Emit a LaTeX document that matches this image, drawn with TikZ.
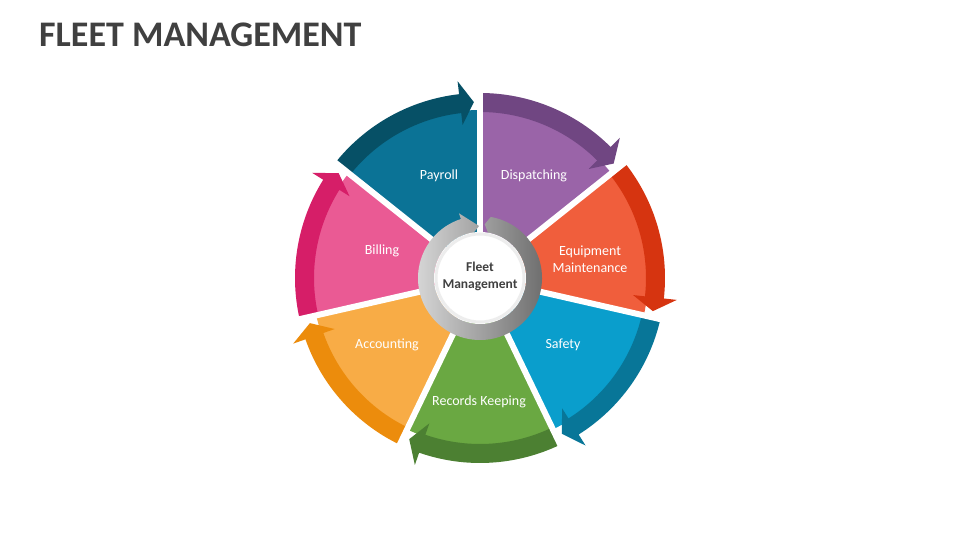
\documentclass[tikz,border=0pt]{standalone}
\usepackage{fontspec}
\setmainfont{Carlito}
\definecolor{titlegray}{HTML}{404040}
\definecolor{dispL}{HTML}{9A64A8}\definecolor{dispD}{HTML}{704682}
\definecolor{equL}{HTML}{F05E3C}\definecolor{equD}{HTML}{D63410}
\definecolor{safL}{HTML}{0A9ECC}\definecolor{safD}{HTML}{087698}
\definecolor{recL}{HTML}{6AA842}\definecolor{recD}{HTML}{4C8032}
\definecolor{accL}{HTML}{F8AC46}\definecolor{accD}{HTML}{EC8C0C}
\definecolor{bilL}{HTML}{EA5A94}\definecolor{bilD}{HTML}{D61E68}
\definecolor{payL}{HTML}{0B7396}\definecolor{payD}{HTML}{065066}
\begin{document}
\begin{tikzpicture}[x=1pt,y=1pt,
  lab/.style={text=white, font=\fontsize{14}{16.5}\selectfont, align=center, inner sep=0},
  centrelab/.style={text=titlegray, font=\fontsize{13.5}{17}\selectfont\bfseries, align=center, inner sep=0},
  gapline/.style={white, line width=6}]
\fill[white] (0,0) rectangle (960,540);
\useasboundingbox (0,0) rectangle (960,540);
\node[anchor=base west, text=titlegray, font=\fontsize{36}{40}\selectfont\bfseries, inner sep=0] (title) at (39,493.5) {FLEET MANAGEMENT};
\begin{scope}[shift={(480,262)}]
  \foreach \k/\lc/\dc in {0/dispL/dispD, 1/equL/equD, 2/safL/safD, 3/recL/recD, 4/accL/accD, 5/bilL/bilD, 6/payL/payD} {
    \pgfmathsetmacro{\sA}{90-\k*360/7}
    \pgfmathsetmacro{\eA}{\sA-360/7}
    \pgfmathsetmacro{\hA}{\eA+6.5}
    \pgfmathsetmacro{\tA}{\eA+2}
    \fill[\lc] (0,0) -- (\sA:168) arc[start angle=\sA, end angle=\eA, radius=168] -- cycle;
    \fill[\dc] (\sA:185) arc[start angle=\sA, end angle=\hA, radius=185] -- (\hA:198) -- (\tA:176) -- (\hA:154) -- (\hA:166) arc[start angle=\hA, end angle=\sA, radius=166] -- cycle;
  }
  \foreach \k in {0,...,6} {
    \draw[gapline] (0,0) -- ({90-\k*360/7}:212);
  }
  \shade[left color=black!15, right color=black!58]
    (80:62) arc[start angle=80, end angle=-252, radius=62] -- (-252:68) -- (91:52) -- (-252:40) -- (-252:46)
    arc[start angle=-252, end angle=80, radius=46] -- (85:54) -- cycle;
  \fill[white] (0,0) circle[radius=46];
  \draw[black!7, line width=3] (0,0) circle[radius=44];
\end{scope}
\node[centrelab] (hub) at (480,263.5) {Fleet\\Management};
\node[lab] (dispatching) at (534,364) {Dispatching};
\node[lab] (equipment) at (590,281) {Equipment\\Maintenance};
\node[lab] (safety) at (563,195) {Safety};
\node[lab] (records) at (479,138) {Records Keeping};
\node[lab] (accounting) at (387,195) {Accounting};
\node[lab] (billing) at (382,289) {Billing};
\node[lab] (payroll) at (439,364) {Payroll};
\end{tikzpicture}
\end{document}
